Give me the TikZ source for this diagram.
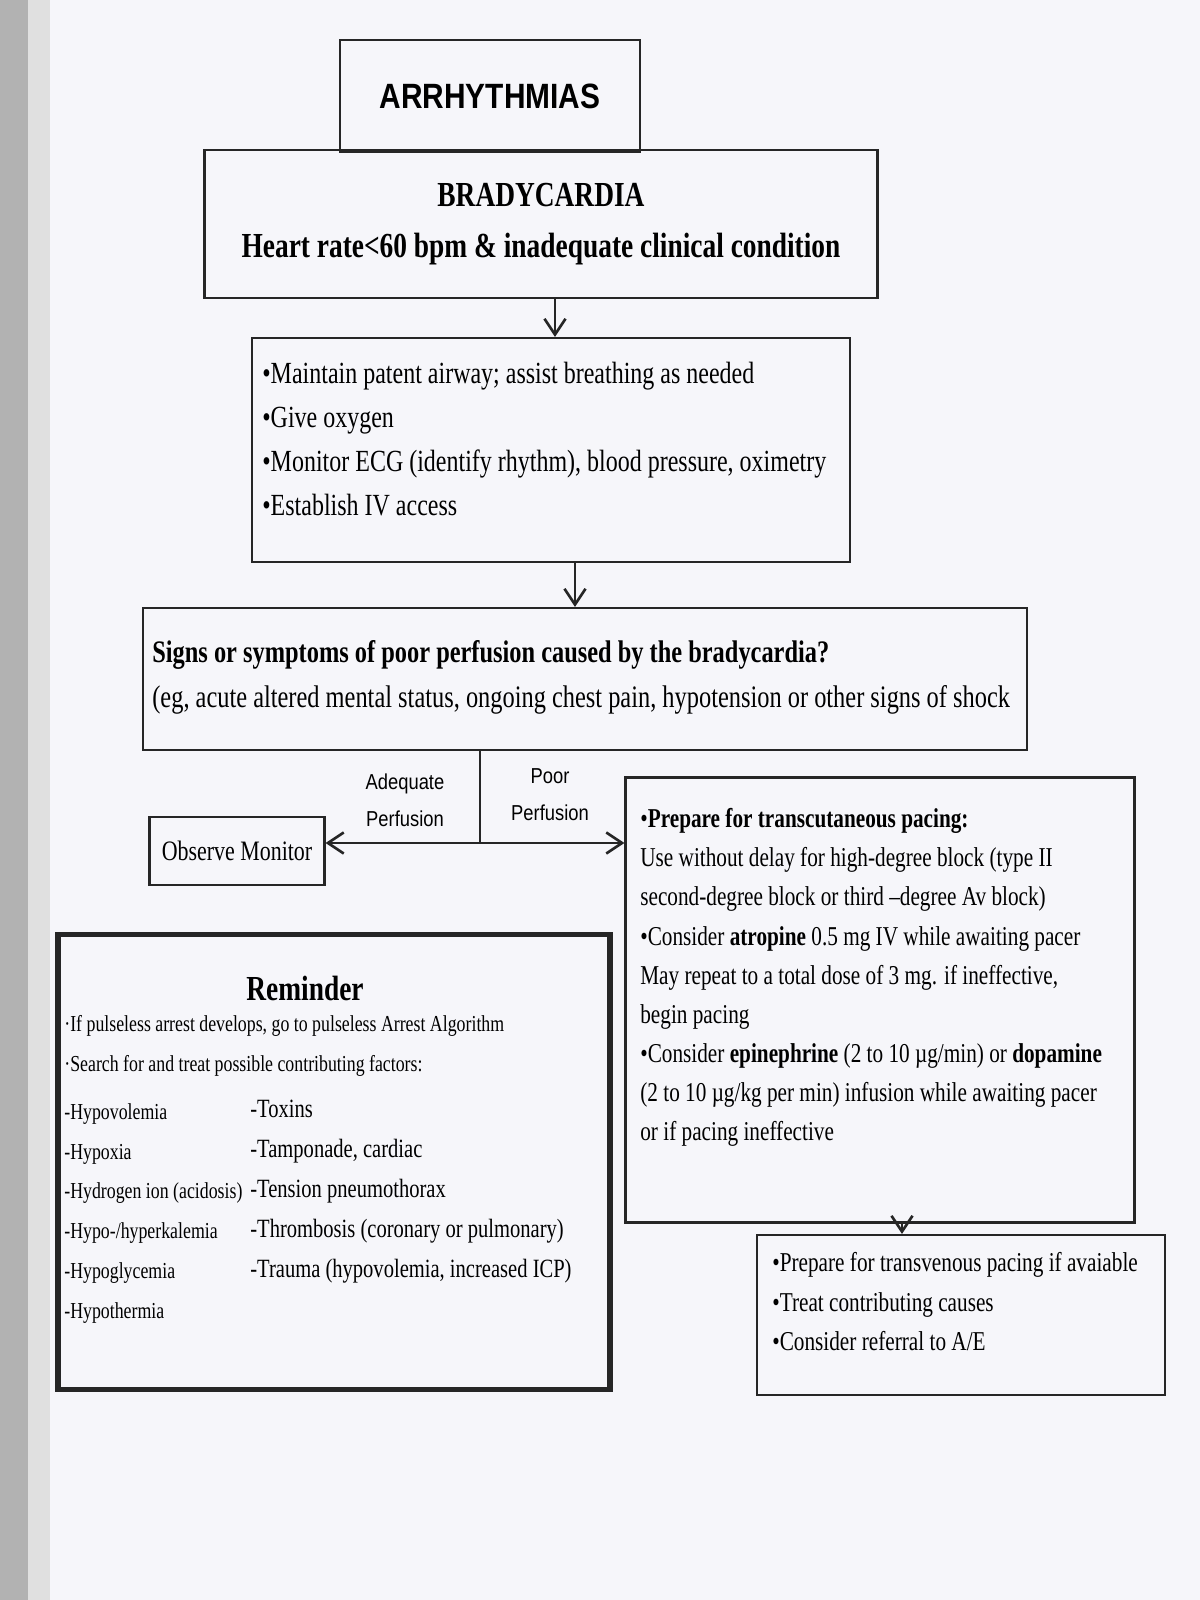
\documentclass[tikz,border=0pt]{standalone}
\usepackage{fontspec}
\setmainfont{Liberation Serif}
\newfontfamily\cond[FakeStretch=0.78]{Liberation Serif}
\newfontfamily\condsans[FakeStretch=0.85]{Liberation Sans}
\usetikzlibrary{arrows.meta}
\definecolor{pagebg}{RGB}{246,246,250}
\begin{document}
\begin{tikzpicture}[x=0.02cm,y=-0.02cm,
  bx/.style={draw=black!85,line width=1.2pt},
  arr/.style={draw=black!85,line width=1.5pt,-{Straight Barb[length=9pt,width=12pt]}},
  tx/.style={inner sep=0pt,anchor=north west,align=left}]
\fill[pagebg] (0,0) rectangle (1200,1600);
\fill[black!30] (0,0) rectangle (28,1600);
\fill[black!12] (28,0) rectangle (50,1600);
\useasboundingbox (0,0) rectangle (1200,1600);
% title
\node[bx,minimum width=300*0.02cm,minimum height=112*0.02cm,font=\condsans\bfseries\fontsize{20}{24}\selectfont] (t) at (490,96) {ARRHYTHMIAS};
\node[bx,minimum width=673*0.02cm,minimum height=148*0.02cm,align=center,font=\cond\fontsize{20}{29}\selectfont\bfseries] (b) at (541,224) {BRADYCARDIA\\Heart rate<60 bpm \& inadequate clinical condition};
\node[bx,minimum width=598*0.02cm,minimum height=224*0.02cm] (m) at (551,450) {};
\node[tx,font=\cond\fontsize{17.5}{25}\selectfont] at (262,362) {•Maintain patent airway; assist breathing as needed\\•Give oxygen\\•Monitor ECG (identify rhythm), blood pressure, oximetry\\•Establish IV access};
\node[bx,minimum width=884*0.02cm,minimum height=142*0.02cm] (s) at (585,679) {};
\node[tx,font=\cond\fontsize{17.8}{25.5}\selectfont] at (152,640) {\textbf{Signs or symptoms of poor perfusion caused by the bradycardia?}\\(eg, acute altered mental status, ongoing chest pain, hypotension or other signs of shock};
\node[bx,minimum width=175*0.02cm,minimum height=68*0.02cm,font=\cond\fontsize{16}{20}\selectfont] (o) at (237,851) {Observe Monitor};
\node[bx,minimum width=509*0.02cm,minimum height=445*0.02cm] (p) at (880,1000) {};
\node[tx,font=\cond\fontsize{15.5}{22.3}\selectfont] at (640,808) {•\textbf{Prepare for transcutaneous pacing:}\\Use without delay for high-degree block (type II\\second-degree block or third –degree Av block)\\•Consider \textbf{atropine} 0.5 mg IV while awaiting pacer\\May repeat to a total dose of 3 mg. if ineffective,\\begin pacing\\•Consider \textbf{epinephrine} (2 to 10 µg/min) or \textbf{dopamine}\\(2 to 10 µg/kg per min) infusion while awaiting pacer\\or if pacing ineffective};
\node[bx,minimum width=408*0.02cm,minimum height=160*0.02cm] (v) at (961,1315) {};
\node[tx,font=\cond\fontsize{15.5}{22.5}\selectfont] at (772,1252) {•Prepare for transvenous pacing if avaiable\\•Treat contributing causes\\•Consider referral to A/E};
\node[draw=black!85,line width=3pt,minimum width=552*0.02cm,minimum height=455*0.02cm] (r) at (334,1162) {};
\node[font=\cond\fontsize{20}{24}\selectfont\bfseries] at (305,988) {Reminder};
\node[tx,font=\cond\fontsize{13}{22.7}\selectfont] at (64,1015) {·If pulseless arrest develops, go to pulseless Arrest Algorithm\\·Search for and treat possible contributing factors:};
\node[tx,font=\cond\fontsize{13}{22.7}\selectfont] at (64,1103) {-Hypovolemia\\-Hypoxia\\-Hydrogen ion (acidosis)\\-Hypo-/hyperkalemia\\-Hypoglycemia\\-Hypothermia};
\node[tx,font=\cond\fontsize{15}{22.7}\selectfont] at (250,1100) {-Toxins\\-Tamponade, cardiac\\-Tension pneumothorax\\-Thrombosis (coronary or pulmonary)\\-Trauma (hypovolemia, increased ICP)};
% arrows
\draw[arr] (b.south -| 555,0) -- (m.north -| 555,0);
\draw[arr] (m.south -| 575,0) -- (s.north -| 575,0);
\coordinate (j) at (480,843);
\draw[draw=black!85,line width=1.5pt] (s.south -| j) -- (j);
\draw[arr] (j) -- (o.east |- j);
\draw[arr] (j) -- (p.west |- j);
\draw[arr] (p.south -| 902,0) -- (v.north -| 902,0);
\node[align=center,font=\condsans\fontsize{12.3}{21}\selectfont] at (405,800) {Adequate\\Perfusion};
\node[align=center,font=\condsans\fontsize{12.3}{21}\selectfont] at (550,795) {Poor\\Perfusion};
\end{tikzpicture}
\end{document}
